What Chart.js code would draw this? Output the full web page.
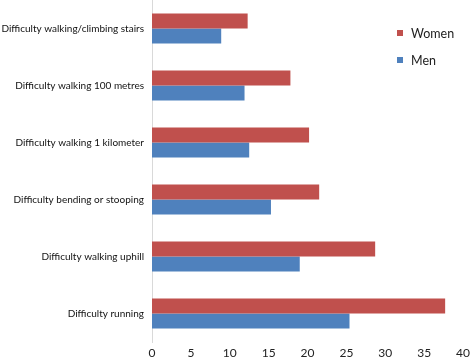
<!DOCTYPE html>
<html>
<head>
<meta charset="utf-8">
<script src="https://cdn.jsdelivr.net/npm/chart.js@4"></script>
<style>
  html, body { margin: 0; padding: 0; background: #fff; }
  #wrap { position: relative; width: 474px; height: 361px; }
  #legend { position: absolute; left: 397px; top: 25px; font-family: Lato, sans-serif; font-size: 12.5px; color: #222; }
  #legend div { height: 26.5px; line-height: 18px; white-space: nowrap; }
  #legend span.box { display: inline-block; width: 6px; height: 6px; margin-right: 8px; vertical-align: 2px; }
</style>
</head>
<body>
<div id="wrap">
  <canvas id="chart" width="474" height="361"></canvas>
  <div id="legend"></div>
</div>
<script>
// Categories (top to bottom) and percentages
const categories = [
    'Difficulty walking/climbing stairs',
    'Difficulty walking 100 metres',
    'Difficulty walking 1 kilometer',
    'Difficulty bending or stooping',
    'Difficulty walking uphill',
    'Difficulty running'
];
const womenValues = [12.3, 17.8, 20.2, 21.5, 28.7, 37.7];
const menValues = [8.9, 11.9, 12.5, 15.3, 19.0, 25.4];
const seriesNames = ['Women', 'Men'];
const seriesColors = ['#C0504D', '#4F81BD'];
const xTicks = [0, 5, 10, 15, 20, 25, 30, 35, 40];

const fontFamily = 'Lato, sans-serif';

const ctx = document.getElementById('chart').getContext('2d');
const chart = new Chart(ctx, {
    type: 'bar',
    data: {
        labels: categories,
        datasets: [
            { label: seriesNames[0], data: womenValues, backgroundColor: seriesColors[0] },
            { label: seriesNames[1], data: menValues, backgroundColor: seriesColors[1] }
        ]
    },
    options: {
        indexAxis: 'y',
        responsive: false,
        animation: false,
        categoryPercentage: 0.53,
        barPercentage: 1.0,
        layout: { padding: { top: 0, right: 6, bottom: 0, left: 0 } },
        plugins: {
            legend: { display: false },
            tooltip: { enabled: false }
        },
        scales: {
            x: {
                min: 0,
                max: 40,
                afterBuildTicks: function (scale) {
                    scale.ticks = xTicks.map(v => ({ value: v }));
                },
                afterFit: function (scale) { scale.height = 19; },
                grid: { display: false, drawTicks: false },
                border: { display: false },
                ticks: {
                    padding: 4,
                    color: '#222',
                    font: { family: fontFamily, size: 12 },
                    maxRotation: 0
                }
            },
            y: {
                afterFit: function (scale) {
                    scale.width = 152;
                    scale.paddingTop = 0;
                    scale.paddingBottom = 0;
                },
                grid: { display: false, drawTicks: false },
                border: { display: true, color: '#d9d9d9', width: 1 },
                ticks: {
                    padding: 8,
                    color: '#111',
                    font: { family: fontFamily, size: 10 }
                }
            }
        }
    }
});

// Legend drawn as HTML text in the top right corner
const legendEl = document.getElementById('legend');
seriesNames.forEach(function (name, i) {
    const row = document.createElement('div');
    const box = document.createElement('span');
    box.className = 'box';
    box.style.background = seriesColors[i];
    row.appendChild(box);
    row.appendChild(document.createTextNode(name));
    legendEl.appendChild(row);
});
</script>
</body>
</html>
